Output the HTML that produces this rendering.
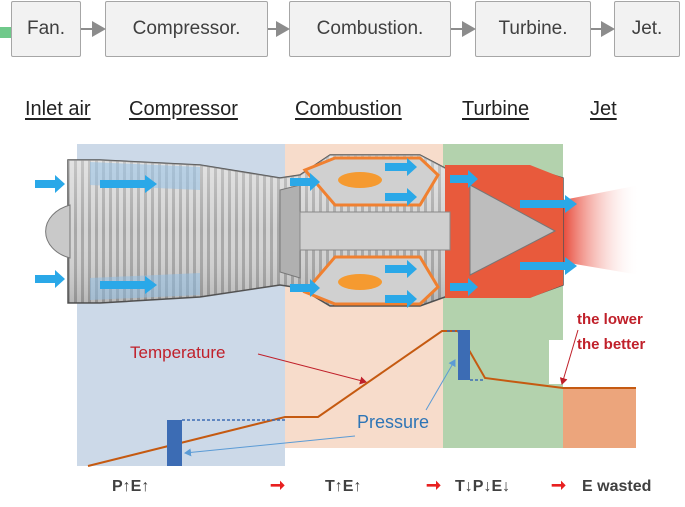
<!DOCTYPE html>
<html><head><meta charset="utf-8"><style>
body{margin:0;background:#fff;width:685px;height:507px;overflow:hidden;position:relative;font-family:"Liberation Sans",sans-serif}
.b{position:absolute;top:1px;height:56px;background:#f2f2f2;border:1.5px solid #a6a6a6;border-radius:2px;box-sizing:border-box;display:flex;align-items:center;justify-content:center;font-size:19px;color:#404040}
.h{position:absolute;top:98px;font-size:20px;color:#222;text-decoration:underline;text-underline-offset:3px}
.t{position:absolute;font-weight:bold;font-size:16px;color:#404040;top:478px}
.r{position:absolute;color:#e82020;font-size:18px;top:475px;font-weight:bold}
</style></head><body>
<div style="position:absolute;left:0;top:27px;width:11px;height:11px;background:#6fc98a"></div>
<div class="b" style="left:11px;width:70px">Fan.</div>
<div class="b" style="left:105px;width:163px">Compressor.</div>
<div class="b" style="left:289px;width:162px">Combustion.</div>
<div class="b" style="left:475px;width:116px">Turbine.</div>
<div class="b" style="left:614px;width:66px">Jet.</div>
<svg style="position:absolute;left:0;top:0" width="685" height="507">
<defs>
<marker id="ag" markerWidth="8" markerHeight="8" refX="6" refY="4" orient="auto"><path d="M0,0L7,4L0,8z" fill="#8c8c8c"/></marker>
<marker id="ar" markerWidth="8" markerHeight="8" refX="6" refY="4" orient="auto"><path d="M0,0L7,4L0,8z" fill="#c0202a"/></marker>
<marker id="ab" markerWidth="8" markerHeight="8" refX="6" refY="4" orient="auto"><path d="M0,0L7,4L0,8z" fill="#5b9bd5"/></marker>
<pattern id="st" width="7" height="10" patternUnits="userSpaceOnUse"><rect width="7" height="10" fill="#a8a8a8"/><rect width="4" height="10" fill="#d4d4d4"/></pattern>
<linearGradient id="jet" x1="0" x2="1"><stop offset="0" stop-color="#e84a3a"/><stop offset="1" stop-color="#fff" stop-opacity="0"/></linearGradient>
<linearGradient id="vg" x1="0" y1="0" x2="0" y2="1"><stop offset="0" stop-color="#fff" stop-opacity="0.35"/><stop offset="0.5" stop-color="#fff" stop-opacity="0"/><stop offset="1" stop-color="#000" stop-opacity="0.15"/></linearGradient>
</defs>
<g stroke="#8c8c8c" stroke-width="2" fill="none">
<line x1="81" y1="29" x2="104" y2="29" marker-end="url(#ag)"/>
<line x1="268" y1="29" x2="288" y2="29" marker-end="url(#ag)"/>
<line x1="451" y1="29" x2="474" y2="29" marker-end="url(#ag)"/>
<line x1="591" y1="29" x2="613" y2="29" marker-end="url(#ag)"/>
</g>
<rect x="77" y="144" width="208" height="322" fill="#ccd9e8"/>
<rect x="285" y="144" width="158" height="304" fill="#f7dccb"/>
<rect x="443" y="144" width="120" height="304" fill="#b3d2ad"/>
<rect x="549" y="340" width="14" height="44" fill="#fff"/>
<rect x="563" y="388" width="73" height="60" fill="#eca57c"/>
<path d="M563,200 L640,185 L640,275 L563,262 Z" fill="url(#jet)"/>
<path d="M68,160 L100,160 L200,165 L280,178 L300,175 L330,155 L420,155 L445,168 L530,168 L563,178 L563,285 L530,297 L445,297 L420,306 L330,306 L300,288 L280,285 L200,297 L100,303 L68,303 Z" fill="url(#st)" stroke="#555" stroke-width="1.5"/>
<path d="M68,160 L100,160 L200,165 L280,178 L300,175 L330,155 L420,155 L445,168 L530,168 L563,178 L563,285 L530,297 L445,297 L420,306 L330,306 L300,288 L280,285 L200,297 L100,303 L68,303 Z" fill="url(#vg)"/>
<path d="M90,162 L200,167 L200,190 L90,185 Z M90,278 L200,273 L200,295 L90,300 Z" fill="#8fc0e8" opacity="0.5"/>
<path d="M445,165 L530,165 L563,178 L563,285 L530,298 L445,298 Z" fill="#e85a3c"/>
<path d="M470,185 L555,231 L470,275 Z" fill="#bdbdbd" stroke="#777"/>
<path d="M305,170 L335,158 L420,158 L438,175 L420,205 L335,205 Z" fill="#d0d0d0" stroke="#f08030" stroke-width="3"/>
<path d="M305,292 L335,304 L420,304 L438,287 L420,257 L335,257 Z" fill="#d0d0d0" stroke="#f08030" stroke-width="3"/>
<ellipse cx="360" cy="180" rx="22" ry="8" fill="#f59a30"/>
<ellipse cx="360" cy="282" rx="22" ry="8" fill="#f59a30"/>
<path d="M280,190 L300,185 L300,278 L280,272 Z" fill="#b0b0b0" stroke="#777"/>
<rect x="300" y="212" width="150" height="38" fill="#cfcfcf" stroke="#888"/>
<path d="M70,205 A36,28 0 0 0 70,258 Z" fill="#c9c9c9" stroke="#777"/>
<g fill="#2aa8e8">
<path d="M35,180h20v-5l10,9l-10,9v-5h-20z"/>
<path d="M35,275h20v-5l10,9l-10,9v-5h-20z"/>
<path d="M100,180h45v-5l12,9l-12,9v-5h-45z"/>
<path d="M100,281h45v-5l12,9l-12,9v-5h-45z"/>
<path d="M290,178h20v-5l10,9l-10,9v-5h-20z"/>
<path d="M290,284h20v-5l10,9l-10,9v-5h-20z"/>
<path d="M385,163h22v-5l10,9l-10,9v-5h-22z"/>
<path d="M385,193h22v-5l10,9l-10,9v-5h-22z"/>
<path d="M385,265h22v-5l10,9l-10,9v-5h-22z"/>
<path d="M385,295h22v-5l10,9l-10,9v-5h-22z"/>
<path d="M450,175h18v-5l10,9l-10,9v-5h-18z"/>
<path d="M450,283h18v-5l10,9l-10,9v-5h-18z"/>
<path d="M520,200h45v-5l12,9l-12,9v-5h-45z"/>
<path d="M520,262h45v-5l12,9l-12,9v-5h-45z"/>
</g>
<polyline points="88,466 285,417 318,417 442,331 458,331 485,378 563,388 636,388" fill="none" stroke="#c55a11" stroke-width="2"/>
<rect x="167" y="420" width="15" height="46" fill="#3c6cb4"/>
<rect x="458" y="330" width="12" height="50" fill="#3c6cb4"/>
<g stroke="#3c6cb4" stroke-width="1.5" stroke-dasharray="3,2"><line x1="182" y1="420" x2="285" y2="420"/><line x1="447" y1="331" x2="458" y2="331"/><line x1="470" y1="380" x2="485" y2="380"/></g>
<line x1="258" y1="354" x2="366" y2="382" stroke="#c0202a" stroke-width="1" marker-end="url(#ar)"/>
<line x1="578" y1="330" x2="562" y2="384" stroke="#c0202a" stroke-width="1" marker-end="url(#ar)"/>
<line x1="355" y1="436" x2="185" y2="453" stroke="#5b9bd5" stroke-width="1" marker-end="url(#ab)"/>
<line x1="426" y1="410" x2="455" y2="360" stroke="#5b9bd5" stroke-width="1" marker-end="url(#ab)"/>
</svg>
<div class="h" style="left:25px">Inlet air</div>
<div class="h" style="left:129px">Compressor</div>
<div class="h" style="left:295px">Combustion</div>
<div class="h" style="left:462px">Turbine</div>
<div class="h" style="left:590px">Jet</div>
<div style="position:absolute;left:130px;top:343px;color:#c0202a;font-size:17px">Temperature</div>
<div style="position:absolute;left:357px;top:412px;color:#2e75b6;font-size:18px">Pressure</div>
<div style="position:absolute;left:577px;top:307px;color:#c0202a;font-size:15px;font-weight:bold;line-height:25px">the lower<br>the better</div>
<div class="t" style="left:112px">P↑E↑</div>
<div class="r" style="left:270px">➞</div>
<div class="t" style="left:325px">T↑E↑</div>
<div class="r" style="left:426px">➞</div>
<div class="t" style="left:455px">T↓P↓E↓</div>
<div class="r" style="left:551px">➞</div>
<div class="t" style="left:582px">E wasted</div>
</body></html>
